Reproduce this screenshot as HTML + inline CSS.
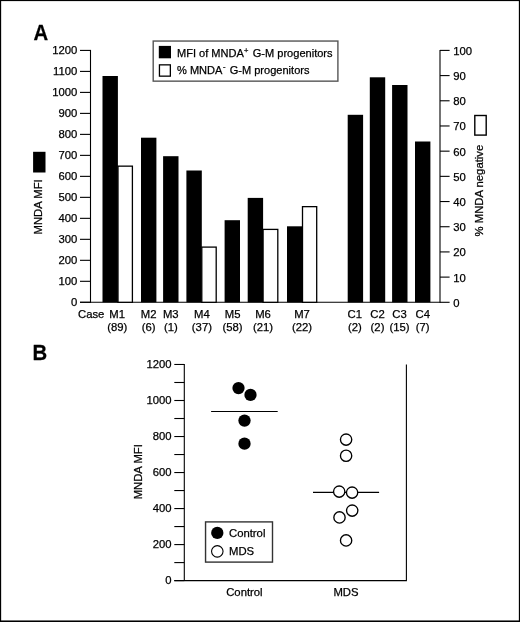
<!DOCTYPE html>
<html><head><meta charset="utf-8"><style>
html,body{margin:0;padding:0;background:#fff;}
body{width:520px;height:622px;overflow:hidden;}
svg{display:block;font-family:"Liberation Sans",Arial,sans-serif;}
text{stroke:#000;stroke-width:0.25px;fill:#000;}
</style></head><body>
<svg width="520" height="622" viewBox="0 0 520 622">
<rect x="0" y="0" width="520" height="622" fill="#fff"/>
<rect x="0" y="0" width="520" height="1.1" fill="#000"/>
<rect x="0" y="0" width="1.15" height="622" fill="#000"/>
<rect x="518.85" y="0" width="1.15" height="622" fill="#000"/>
<rect x="0" y="620.45" width="520" height="1.55" fill="#000"/>
<text x="0.00" y="0.00" text-anchor="start" font-size="22.1" font-weight="bold" transform="translate(33.6,40.3) scale(0.92,1)">A</text>
<line x1="90.50" y1="49.92" x2="90.50" y2="302.80" stroke="#000" stroke-width="1.1"/>
<line x1="80.00" y1="302.30" x2="90.50" y2="302.30" stroke="#000" stroke-width="1.1"/>
<text x="77.40" y="305.80" text-anchor="end" font-size="11.3" font-weight="normal" >0</text>
<line x1="80.00" y1="281.31" x2="90.50" y2="281.31" stroke="#000" stroke-width="1.1"/>
<text x="77.40" y="285.31" text-anchor="end" font-size="11.3" font-weight="normal" >100</text>
<line x1="80.00" y1="260.32" x2="90.50" y2="260.32" stroke="#000" stroke-width="1.1"/>
<text x="77.40" y="264.32" text-anchor="end" font-size="11.3" font-weight="normal" >200</text>
<line x1="80.00" y1="239.33" x2="90.50" y2="239.33" stroke="#000" stroke-width="1.1"/>
<text x="77.40" y="243.33" text-anchor="end" font-size="11.3" font-weight="normal" >300</text>
<line x1="80.00" y1="218.34" x2="90.50" y2="218.34" stroke="#000" stroke-width="1.1"/>
<text x="77.40" y="222.34" text-anchor="end" font-size="11.3" font-weight="normal" >400</text>
<line x1="80.00" y1="197.35" x2="90.50" y2="197.35" stroke="#000" stroke-width="1.1"/>
<text x="77.40" y="201.35" text-anchor="end" font-size="11.3" font-weight="normal" >500</text>
<line x1="80.00" y1="176.36" x2="90.50" y2="176.36" stroke="#000" stroke-width="1.1"/>
<text x="77.40" y="180.36" text-anchor="end" font-size="11.3" font-weight="normal" >600</text>
<line x1="80.00" y1="155.37" x2="90.50" y2="155.37" stroke="#000" stroke-width="1.1"/>
<text x="77.40" y="159.37" text-anchor="end" font-size="11.3" font-weight="normal" >700</text>
<line x1="80.00" y1="134.38" x2="90.50" y2="134.38" stroke="#000" stroke-width="1.1"/>
<text x="77.40" y="138.38" text-anchor="end" font-size="11.3" font-weight="normal" >800</text>
<line x1="80.00" y1="113.39" x2="90.50" y2="113.39" stroke="#000" stroke-width="1.1"/>
<text x="77.40" y="117.39" text-anchor="end" font-size="11.3" font-weight="normal" >900</text>
<line x1="80.00" y1="92.40" x2="90.50" y2="92.40" stroke="#000" stroke-width="1.1"/>
<text x="77.40" y="96.40" text-anchor="end" font-size="11.3" font-weight="normal" >1000</text>
<line x1="80.00" y1="71.41" x2="90.50" y2="71.41" stroke="#000" stroke-width="1.1"/>
<text x="77.40" y="75.41" text-anchor="end" font-size="11.3" font-weight="normal" >1100</text>
<line x1="80.00" y1="50.42" x2="90.50" y2="50.42" stroke="#000" stroke-width="1.1"/>
<text x="77.40" y="54.42" text-anchor="end" font-size="11.3" font-weight="normal" >1200</text>
<line x1="440.00" y1="49.90" x2="440.00" y2="302.80" stroke="#000" stroke-width="1.1"/>
<line x1="440.00" y1="302.30" x2="449.60" y2="302.30" stroke="#000" stroke-width="1.1"/>
<text x="453.30" y="306.70" text-anchor="start" font-size="11.3" font-weight="normal" >0</text>
<line x1="440.00" y1="277.11" x2="449.60" y2="277.11" stroke="#000" stroke-width="1.1"/>
<text x="453.30" y="281.51" text-anchor="start" font-size="11.3" font-weight="normal" >10</text>
<line x1="440.00" y1="251.92" x2="449.60" y2="251.92" stroke="#000" stroke-width="1.1"/>
<text x="453.30" y="256.32" text-anchor="start" font-size="11.3" font-weight="normal" >20</text>
<line x1="440.00" y1="226.73" x2="449.60" y2="226.73" stroke="#000" stroke-width="1.1"/>
<text x="453.30" y="231.13" text-anchor="start" font-size="11.3" font-weight="normal" >30</text>
<line x1="440.00" y1="201.54" x2="449.60" y2="201.54" stroke="#000" stroke-width="1.1"/>
<text x="453.30" y="205.94" text-anchor="start" font-size="11.3" font-weight="normal" >40</text>
<line x1="440.00" y1="176.35" x2="449.60" y2="176.35" stroke="#000" stroke-width="1.1"/>
<text x="453.30" y="180.75" text-anchor="start" font-size="11.3" font-weight="normal" >50</text>
<line x1="440.00" y1="151.16" x2="449.60" y2="151.16" stroke="#000" stroke-width="1.1"/>
<text x="453.30" y="155.56" text-anchor="start" font-size="11.3" font-weight="normal" >60</text>
<line x1="440.00" y1="125.97" x2="449.60" y2="125.97" stroke="#000" stroke-width="1.1"/>
<text x="453.30" y="130.37" text-anchor="start" font-size="11.3" font-weight="normal" >70</text>
<line x1="440.00" y1="100.78" x2="449.60" y2="100.78" stroke="#000" stroke-width="1.1"/>
<text x="453.30" y="105.18" text-anchor="start" font-size="11.3" font-weight="normal" >80</text>
<line x1="440.00" y1="75.59" x2="449.60" y2="75.59" stroke="#000" stroke-width="1.1"/>
<text x="453.30" y="79.99" text-anchor="start" font-size="11.3" font-weight="normal" >90</text>
<line x1="440.00" y1="50.40" x2="449.60" y2="50.40" stroke="#000" stroke-width="1.1"/>
<text x="453.30" y="54.80" text-anchor="start" font-size="11.3" font-weight="normal" >100</text>
<line x1="80.00" y1="302.30" x2="440.00" y2="302.30" stroke="#000" stroke-width="1.1"/>
<rect x="102.50" y="76.00" width="15.40" height="226.30" fill="#000"/>
<rect x="141.00" y="137.70" width="15.40" height="164.60" fill="#000"/>
<rect x="163.10" y="156.20" width="15.40" height="146.10" fill="#000"/>
<rect x="186.40" y="170.50" width="15.40" height="131.80" fill="#000"/>
<rect x="224.60" y="220.20" width="15.40" height="82.10" fill="#000"/>
<rect x="247.70" y="197.90" width="15.40" height="104.40" fill="#000"/>
<rect x="287.00" y="226.30" width="15.40" height="76.00" fill="#000"/>
<rect x="347.70" y="114.80" width="15.40" height="187.50" fill="#000"/>
<rect x="369.80" y="77.30" width="15.40" height="225.00" fill="#000"/>
<rect x="392.10" y="85.00" width="15.40" height="217.30" fill="#000"/>
<rect x="415.00" y="141.50" width="15.40" height="160.80" fill="#000"/>
<rect x="118.00" y="166.15" width="14.40" height="136.15" fill="#fff" stroke="#000" stroke-width="1.3"/>
<rect x="201.80" y="247.10" width="14.40" height="55.20" fill="#fff" stroke="#000" stroke-width="1.3"/>
<rect x="263.10" y="229.40" width="14.70" height="72.90" fill="#fff" stroke="#000" stroke-width="1.3"/>
<rect x="302.50" y="206.65" width="14.20" height="95.65" fill="#fff" stroke="#000" stroke-width="1.3"/>
<text x="78.00" y="317.80" text-anchor="start" font-size="11.3" font-weight="normal" >Case</text>
<text x="117.20" y="317.80" text-anchor="middle" font-size="11.3" font-weight="normal" >M1</text>
<text x="117.20" y="330.70" text-anchor="middle" font-size="11.3" font-weight="normal" >(89)</text>
<text x="148.70" y="317.80" text-anchor="middle" font-size="11.3" font-weight="normal" >M2</text>
<text x="148.70" y="330.70" text-anchor="middle" font-size="11.3" font-weight="normal" >(6)</text>
<text x="170.80" y="317.80" text-anchor="middle" font-size="11.3" font-weight="normal" >M3</text>
<text x="170.80" y="330.70" text-anchor="middle" font-size="11.3" font-weight="normal" >(1)</text>
<text x="201.90" y="317.80" text-anchor="middle" font-size="11.3" font-weight="normal" >M4</text>
<text x="201.90" y="330.70" text-anchor="middle" font-size="11.3" font-weight="normal" >(37)</text>
<text x="232.60" y="317.80" text-anchor="middle" font-size="11.3" font-weight="normal" >M5</text>
<text x="232.60" y="330.70" text-anchor="middle" font-size="11.3" font-weight="normal" >(58)</text>
<text x="263.00" y="317.80" text-anchor="middle" font-size="11.3" font-weight="normal" >M6</text>
<text x="263.00" y="330.70" text-anchor="middle" font-size="11.3" font-weight="normal" >(21)</text>
<text x="302.00" y="317.80" text-anchor="middle" font-size="11.3" font-weight="normal" >M7</text>
<text x="302.00" y="330.70" text-anchor="middle" font-size="11.3" font-weight="normal" >(22)</text>
<text x="354.80" y="317.80" text-anchor="middle" font-size="11.3" font-weight="normal" >C1</text>
<text x="354.80" y="330.70" text-anchor="middle" font-size="11.3" font-weight="normal" >(2)</text>
<text x="377.50" y="317.80" text-anchor="middle" font-size="11.3" font-weight="normal" >C2</text>
<text x="377.50" y="330.70" text-anchor="middle" font-size="11.3" font-weight="normal" >(2)</text>
<text x="399.60" y="317.80" text-anchor="middle" font-size="11.3" font-weight="normal" >C3</text>
<text x="399.60" y="330.70" text-anchor="middle" font-size="11.3" font-weight="normal" >(15)</text>
<text x="422.70" y="317.80" text-anchor="middle" font-size="11.3" font-weight="normal" >C4</text>
<text x="422.70" y="330.70" text-anchor="middle" font-size="11.3" font-weight="normal" >(7)</text>
<rect x="33.10" y="151.80" width="12.40" height="20.70" fill="#000"/>
<text x="0.00" y="0.00" text-anchor="middle" font-size="11.3" font-weight="normal" transform="translate(41.7,206.9) rotate(-90)">MNDA MFI</text>
<rect x="474.80" y="115.50" width="11.40" height="19.60" fill="#fff" stroke="#000" stroke-width="1.4"/>
<text x="0.00" y="0.00" text-anchor="middle" font-size="11.3" font-weight="normal" transform="translate(483.2,190.6) rotate(-90)">% MNDA negative</text>
<rect x="153.20" y="41.05" width="184.70" height="40.10" fill="#fff" stroke="#555" stroke-width="1.4"/>
<rect x="158.80" y="45.90" width="12.20" height="12.40" fill="#000"/>
<rect x="159.45" y="64.85" width="10.90" height="11.30" fill="#fff" stroke="#000" stroke-width="1.3"/>
<text x="177.00" y="56.90" text-anchor="start" font-size="11.05" font-weight="normal" >MFI of MNDA<tspan font-size="7.5" dx="0" dy="-3.6">+</tspan><tspan dx="1.4" dy="3.6"> G-M progenitors</tspan></text>
<text x="177.00" y="74.30" text-anchor="start" font-size="11.05" font-weight="normal" >% MNDA<tspan font-size="7.5" dx="0.7" dy="-5.1">-</tspan><tspan dx="1.0" dy="5.1"> G-M progenitors</tspan></text>
<text x="0.00" y="0.00" text-anchor="start" font-size="22.1" font-weight="bold" transform="translate(32.6,359.8) scale(0.92,1)">B</text>
<line x1="184.30" y1="363.98" x2="184.30" y2="581.10" stroke="#000" stroke-width="1.1"/>
<line x1="174.30" y1="580.60" x2="184.30" y2="580.60" stroke="#000" stroke-width="1.1"/>
<text x="171.60" y="583.60" text-anchor="end" font-size="11.3" font-weight="normal" >0</text>
<line x1="174.30" y1="562.59" x2="184.30" y2="562.59" stroke="#000" stroke-width="1.1"/>
<line x1="174.30" y1="544.58" x2="184.30" y2="544.58" stroke="#000" stroke-width="1.1"/>
<text x="171.60" y="548.38" text-anchor="end" font-size="11.3" font-weight="normal" >200</text>
<line x1="174.30" y1="526.57" x2="184.30" y2="526.57" stroke="#000" stroke-width="1.1"/>
<line x1="174.30" y1="508.56" x2="184.30" y2="508.56" stroke="#000" stroke-width="1.1"/>
<text x="171.60" y="512.36" text-anchor="end" font-size="11.3" font-weight="normal" >400</text>
<line x1="174.30" y1="490.55" x2="184.30" y2="490.55" stroke="#000" stroke-width="1.1"/>
<line x1="174.30" y1="472.54" x2="184.30" y2="472.54" stroke="#000" stroke-width="1.1"/>
<text x="171.60" y="476.34" text-anchor="end" font-size="11.3" font-weight="normal" >600</text>
<line x1="174.30" y1="454.53" x2="184.30" y2="454.53" stroke="#000" stroke-width="1.1"/>
<line x1="174.30" y1="436.52" x2="184.30" y2="436.52" stroke="#000" stroke-width="1.1"/>
<text x="171.60" y="440.32" text-anchor="end" font-size="11.3" font-weight="normal" >800</text>
<line x1="174.30" y1="418.51" x2="184.30" y2="418.51" stroke="#000" stroke-width="1.1"/>
<line x1="174.30" y1="400.50" x2="184.30" y2="400.50" stroke="#000" stroke-width="1.1"/>
<text x="171.60" y="404.30" text-anchor="end" font-size="11.3" font-weight="normal" >1000</text>
<line x1="174.30" y1="382.49" x2="184.30" y2="382.49" stroke="#000" stroke-width="1.1"/>
<line x1="174.30" y1="364.48" x2="184.30" y2="364.48" stroke="#000" stroke-width="1.1"/>
<text x="171.60" y="368.28" text-anchor="end" font-size="11.3" font-weight="normal" >1200</text>
<line x1="174.30" y1="580.60" x2="406.90" y2="580.60" stroke="#000" stroke-width="1.1"/>
<line x1="406.40" y1="364.48" x2="406.40" y2="580.60" stroke="#000" stroke-width="1.1"/>
<text x="0.00" y="0.00" text-anchor="middle" font-size="11.3" font-weight="normal" transform="translate(142.1,471.75) rotate(-90)">MNDA MFI</text>
<text x="244.40" y="596.30" text-anchor="middle" font-size="11.3" font-weight="normal" >Control</text>
<text x="346.00" y="596.30" text-anchor="middle" font-size="11.3" font-weight="normal" >MDS</text>
<circle cx="238.50" cy="388.10" r="6.15" fill="#000"/>
<circle cx="250.50" cy="394.90" r="6.15" fill="#000"/>
<circle cx="244.50" cy="420.60" r="6.15" fill="#000"/>
<circle cx="244.50" cy="443.70" r="6.15" fill="#000"/>
<line x1="211.10" y1="411.50" x2="277.70" y2="411.50" stroke="#000" stroke-width="1.1"/>
<line x1="313.00" y1="492.40" x2="379.10" y2="492.40" stroke="#000" stroke-width="1.1"/>
<circle cx="346.10" cy="439.60" r="5.65" fill="#fff" stroke="#000" stroke-width="1.35"/>
<circle cx="346.10" cy="455.70" r="5.65" fill="#fff" stroke="#000" stroke-width="1.35"/>
<circle cx="339.20" cy="491.60" r="5.65" fill="#fff" stroke="#000" stroke-width="1.35"/>
<circle cx="352.10" cy="492.60" r="5.65" fill="#fff" stroke="#000" stroke-width="1.35"/>
<circle cx="352.20" cy="510.60" r="5.65" fill="#fff" stroke="#000" stroke-width="1.35"/>
<circle cx="339.50" cy="517.40" r="5.65" fill="#fff" stroke="#000" stroke-width="1.35"/>
<circle cx="346.10" cy="540.40" r="5.65" fill="#fff" stroke="#000" stroke-width="1.35"/>
<rect x="205.55" y="521.90" width="66.95" height="40.20" fill="#fff" stroke="#333" stroke-width="1.4"/>
<circle cx="217.30" cy="532.90" r="6.15" fill="#000"/>
<circle cx="217.30" cy="551.35" r="5.75" fill="#fff" stroke="#000" stroke-width="1.1"/>
<text x="229.00" y="536.90" text-anchor="start" font-size="11.3" font-weight="normal" >Control</text>
<text x="229.00" y="554.80" text-anchor="start" font-size="11.3" font-weight="normal" >MDS</text>
</svg>
</body></html>
